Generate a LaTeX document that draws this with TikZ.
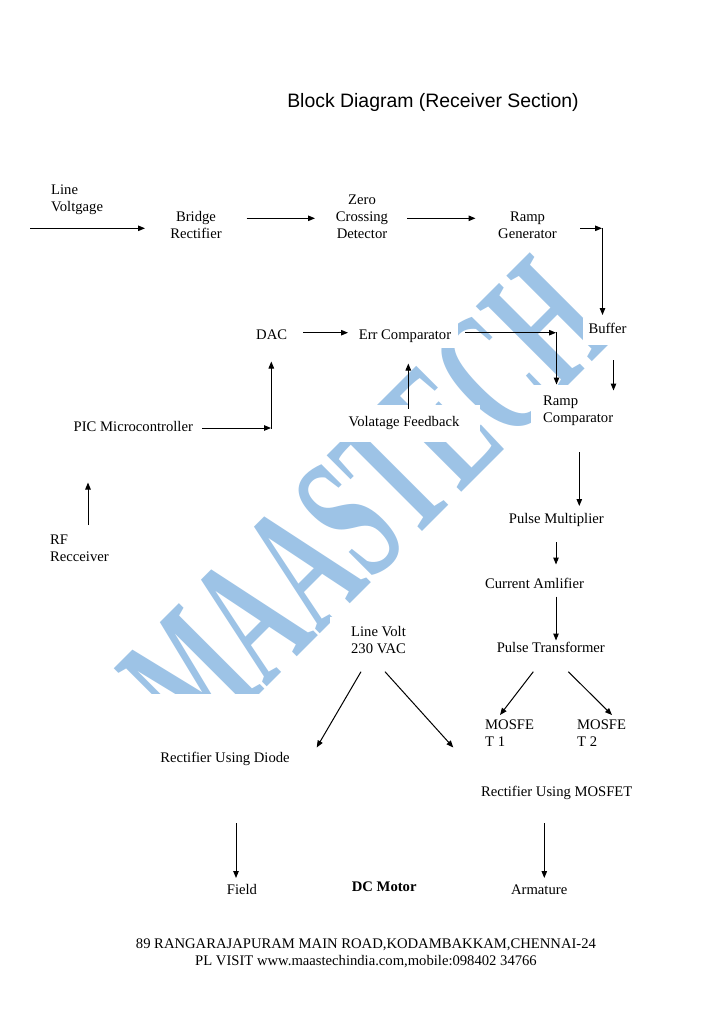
\documentclass[tikz,border=0pt]{standalone}
\usepackage{fontspec}
\setmainfont{Liberation Serif}
\newfontfamily\arialfont{Liberation Sans}
\usetikzlibrary{arrows.meta}
\definecolor{wmblue}{RGB}{157,195,230}
\begin{document}
\begin{tikzpicture}[x=1bp,y=-1bp,
  lbl/.style={inner sep=0pt, font=\fontsize{14.7}{16.8}\selectfont, anchor=base},
  arr/.style={-{Triangle[length=7bp,width=5.5bp]}, line width=1bp}]
\useasboundingbox[fill=white] (0,0) rectangle (728,1031);

% watermark (Word-style diagonal, stretched)
\begin{scope}
\clip (0,0) rectangle (728,693);
\begin{scope}[shift={(198,756)}, rotate=45, yscale=1.8]
\node[transform shape, anchor=base west, inner sep=0pt, text=wmblue,
      font=\bfseries\fontsize{103}{103}\selectfont] (wm) at (0,0) {MAASTECH};
\end{scope}
% blank text-box areas covering the watermark
\fill[white] (335,405) rectangle (480,442);
\fill[white] (531,385) rectangle (635,432);
\fill[white] (350,322) rectangle (458,348);
\fill[white] (583,318) rectangle (635,345);
\fill[white] (330,617) rectangle (425,662);
\end{scope}

% title
\node[lbl, font=\arialfont\fontsize{19.5}{22}\selectfont] (title) at (433,107) {Block Diagram (Receiver Section)};

% texts (base = baseline of the last line)
\node[lbl, align=left, anchor=base west] (lv) at (51,211.7) {Line\\Voltgage};
\node[lbl, align=center] (brg) at (196,238.3) {Bridge\\Rectifier};
\node[lbl, align=center] (zcd) at (362,238.3) {Zero\\Crossing\\Detector};
\node[lbl, align=center] (rg) at (527.5,238.3) {Ramp\\Generator};
\node[lbl] (buf) at (607.5,333.3) {Buffer};
\node[lbl] (dac) at (271.7,339) {DAC};
\node[lbl] (err) at (405,339) {Err Comparator};
\node[lbl, align=left, anchor=base west] (rc) at (543,422.7) {Ramp\\Comparator};
\node[lbl] (vf) at (404,426) {Volatage Feedback};
\node[lbl] (pic) at (133.3,431.7) {PIC Microcontroller};
\node[lbl, align=left, anchor=base west] (rf) at (50,561.7) {RF\\Recceiver};
\node[lbl] (pm) at (556.3,523.3) {Pulse Multiplier};
\node[lbl] (ca) at (534.5,588.3) {Current Amlifier};
\node[lbl] (pt) at (550.8,652.7) {Pulse Transformer};
\node[lbl, align=center] (lvac) at (378.5,653.3) {Line Volt\\230 VAC};
\node[lbl, align=left, anchor=base west] (m1) at (485,746.7) {MOSFE\\T 1};
\node[lbl, align=left, anchor=base west] (m2) at (577,746.7) {MOSFE\\T 2};
\node[lbl] (rud) at (225,762.5) {Rectifier Using Diode};
\node[lbl] (rum) at (556.7,796.7) {Rectifier Using MOSFET};
\node[lbl] (fld) at (242,894.3) {Field};
\node[lbl, font=\bfseries\fontsize{14.7}{17}\selectfont] (dcm) at (384.2,891) {DC Motor};
\node[lbl] (arm) at (539.2,894.3) {Armature};
\node[lbl, align=center] (foot) at (366,965.7) {89 RANGARAJAPURAM MAIN ROAD,KODAMBAKKAM,CHENNAI-24\\PL VISIT www.maastechindia.com,mobile:098402 34766};

% connector end points
\coordinate (a1s) at (30,228.3);   \coordinate (a1e) at (145,228.3);
\coordinate (a2s) at (246.7,218.3); \coordinate (a2e) at (315,218.3);
\coordinate (a3s) at (407.3,218.3); \coordinate (a3e) at (475.5,218.3);
\coordinate (a4s) at (580,228.3);  \coordinate (a4e) at (602,228.3);
\coordinate (a4c) at (602.5,227.8); \coordinate (a4d) at (602.5,315);
\coordinate (a5s) at (613.5,360);  \coordinate (a5e) at (613.5,390.5);
\coordinate (a6s) at (303,332.7);  \coordinate (a6e) at (348,332.7);
\coordinate (a7s) at (465,332.7);  \coordinate (a7e) at (556,332.7);
\coordinate (a7c) at (556.5,332.2); \coordinate (a7d) at (556.5,384.5);
\coordinate (a8s) at (408.3,408.5);  \coordinate (a8e) at (408.3,363.5);
\coordinate (a9s) at (202,428);   \coordinate (a9e) at (271,428);
\coordinate (a9c) at (271.3,428.5); \coordinate (a9d) at (271.3,361.5);
\coordinate (a10s) at (88,525);   \coordinate (a10e) at (88,482.5);
\coordinate (a11s) at (579.3,452); \coordinate (a11e) at (579.3,506);
\coordinate (a12s) at (556,542);  \coordinate (a12e) at (556,564.5);
\coordinate (a13s) at (556,596.5);  \coordinate (a13e) at (556,640.5);
\coordinate (a14s) at (533.3,671.7); \coordinate (a14e) at (500,715);
\coordinate (a15s) at (568.3,671.7); \coordinate (a15e) at (612,715);
\coordinate (a16s) at (361,671.7); \coordinate (a16e) at (316.7,747.5);
\coordinate (a17s) at (385,671.7); \coordinate (a17e) at (453.3,747.5);
\coordinate (a18s) at (236,823.3); \coordinate (a18e) at (236,878);
\coordinate (a19s) at (544.3,823.3); \coordinate (a19e) at (544.3,878);

\draw[arr] (a1s) -- (a1e);
\draw[arr] (a2s) -- (a2e);
\draw[arr] (a3s) -- (a3e);
\draw[arr] (a4s) -- (a4e);
\draw[arr] (a4c) -- (a4d);
\draw[arr] (a5s) -- (a5e);
\draw[arr] (a6s) -- (a6e);
\draw[arr] (a7s) -- (a7e);
\draw[arr] (a7c) -- (a7d);
\draw[arr] (a8s) -- (a8e);
\draw[arr] (a9s) -- (a9e);
\draw[arr] (a9c) -- (a9d);
\draw[arr] (a10s) -- (a10e);
\draw[arr] (a11s) -- (a11e);
\draw[arr] (a12s) -- (a12e);
\draw[arr] (a13s) -- (a13e);
\draw[arr] (a14s) -- (a14e);
\draw[arr] (a15s) -- (a15e);
\draw[arr] (a16s) -- (a16e);
\draw[arr] (a17s) -- (a17e);
\draw[arr] (a18s) -- (a18e);
\draw[arr] (a19s) -- (a19e);
\end{tikzpicture}
\end{document}
